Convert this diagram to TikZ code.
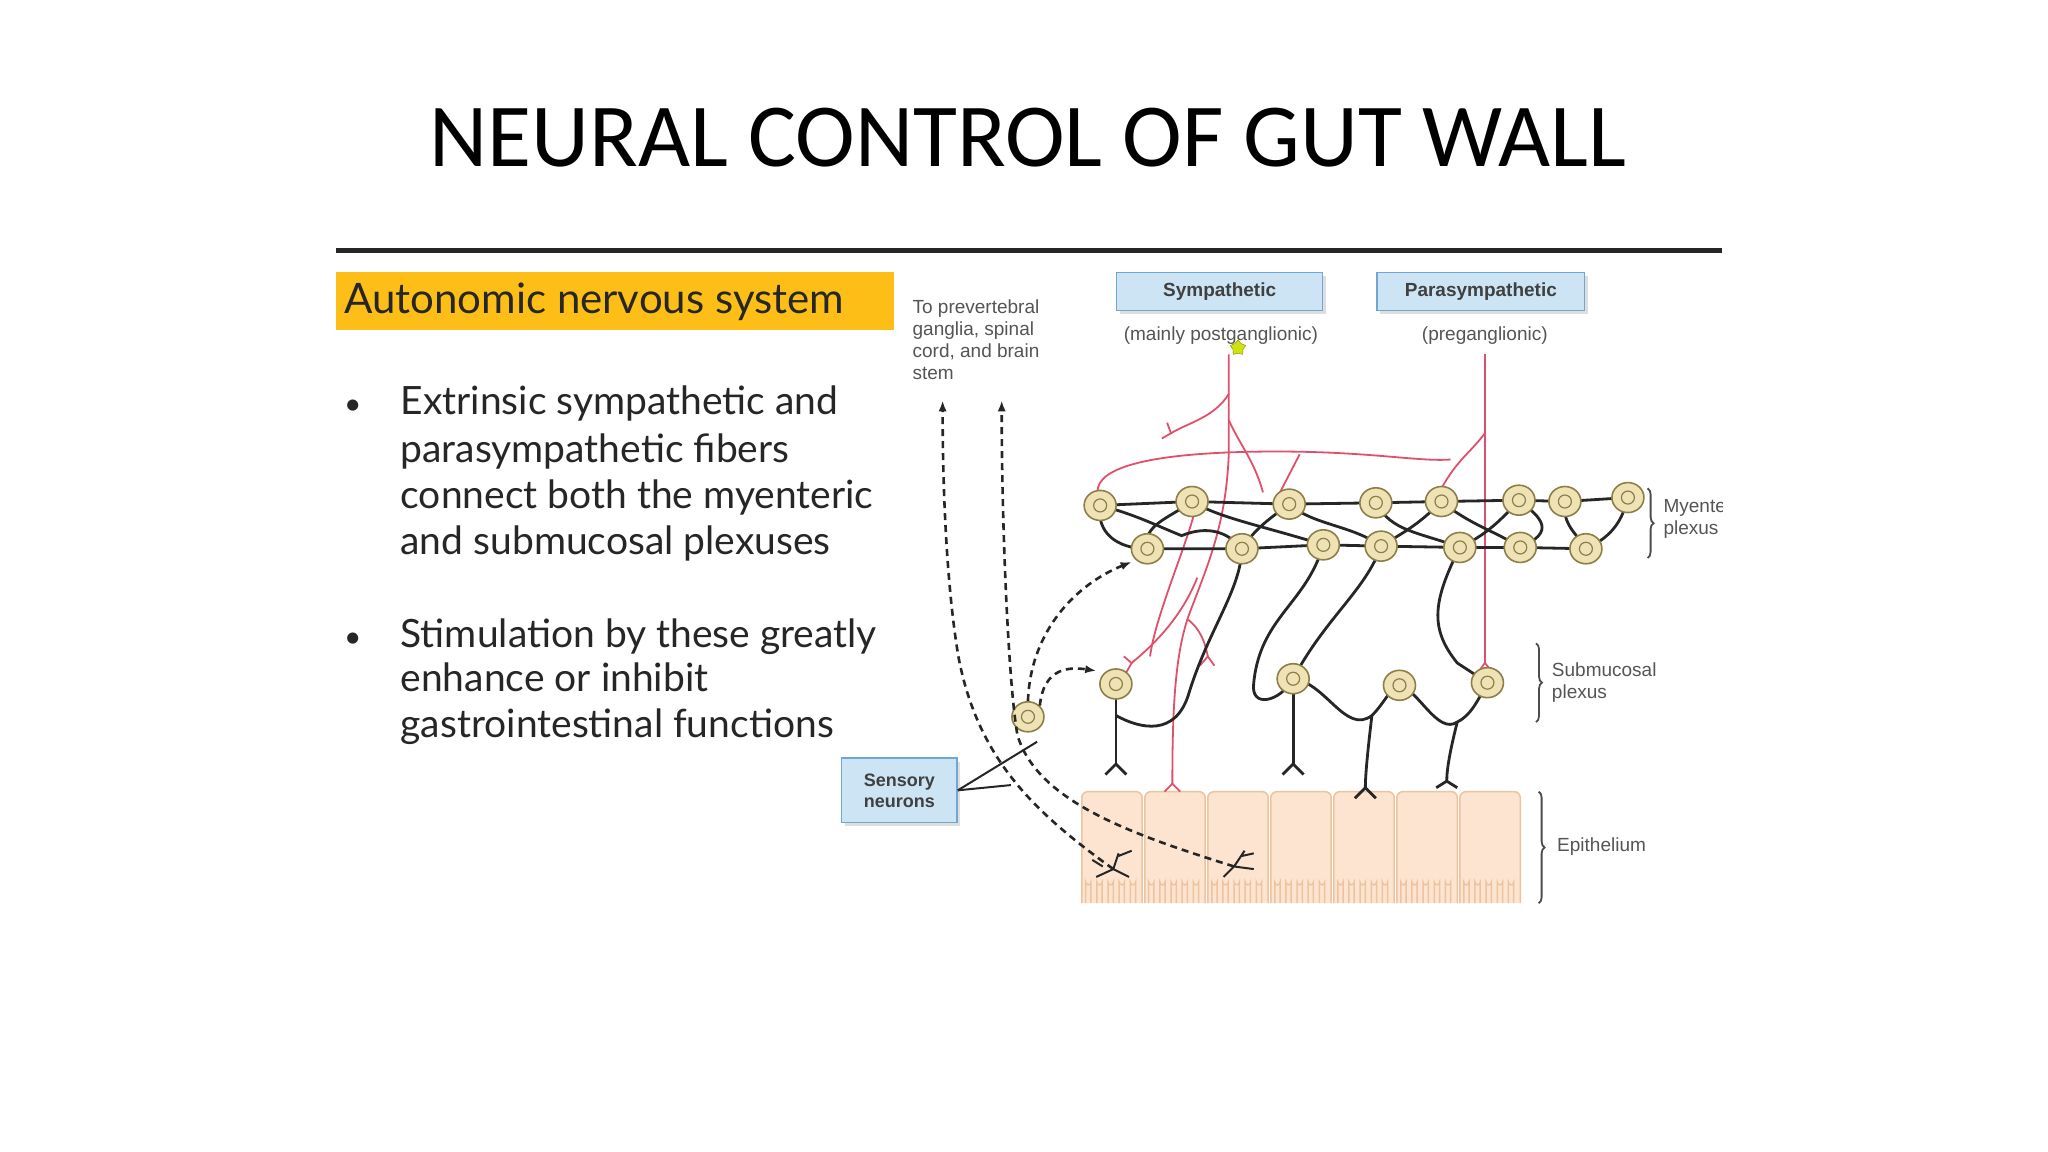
\documentclass[tikz,border=0pt]{standalone}
\usepackage{fontspec}
\setmainfont{Carlito}
\newfontfamily\bodyfont{Lato}
\newfontfamily\lab{Liberation Sans}
\usetikzlibrary{shapes.geometric,decorations.pathreplacing,arrows.meta,shadows}
\definecolor{orng}{HTML}{FDBF17}
\definecolor{boxblue}{HTML}{CDE4F5}
\definecolor{boxedge}{HTML}{6FA6D2}
\definecolor{redf}{HTML}{E0506A}
\definecolor{celledge}{HTML}{8C7F48}
\definecolor{cellfill}{HTML}{EFE3B5}
\definecolor{epi}{HTML}{FCE4D0}
\definecolor{epiedge}{HTML}{EDC3A0}
\definecolor{labgray}{HTML}{555555}
\tikzset{
 cellnode/.style={ellipse,draw=celledge,fill=cellfill,line width=1.6pt,minimum width=32pt,minimum height=30pt,inner sep=0pt},
 inner/.style={circle,draw=celledge,line width=1.2pt,minimum size=13pt,inner sep=0pt},
 lbox/.style={draw=boxedge,fill=boxblue,line width=1.5pt,font=\lab\bfseries\fontsize{19}{22}\selectfont,text=black!75,drop shadow={shadow xshift=3pt,shadow yshift=-4pt,fill=black!25}},
 red fiber/.style={draw=redf,line width=1.8pt},
 blk/.style={draw=black!85,line width=2.8pt},
 dsh/.style={draw=black!85,line width=2.6pt,dash pattern=on 7pt off 5pt},
 smalllab/.style={font=\lab\fontsize{19}{22}\selectfont,text=labgray,align=left,inner sep=0pt},
 bul/.style={font=\bodyfont\fontsize{39}{46}\selectfont,text=black!85,anchor=base west,inner sep=0pt},
 brc/.style={draw=black!70,line width=1.8pt,decorate,decoration={brace,amplitude=6pt}},
}
\begin{document}
\begin{tikzpicture}[x=1.3128pt,y=-1.3128pt]
\useasboundingbox (0,0) rectangle (1560,877.5);
\fill[white] (0,0) rectangle (1560,877.5);
% title
\node[font=\fontsize{90}{100}\selectfont,text=black] (title) at (783,105) {NEURAL CONTROL OF GUT WALL};
\draw[line width=5pt,black!85] (256,191) -- (1312,191);
% orange header
\node[fill=orng,anchor=north west,minimum width=425*1.3128pt,minimum height=44*1.3128pt,inner sep=0pt] (hdr) at (256,207) {};
\node[bul,anchor=west,font=\bodyfont\fontsize{42}{46}\selectfont] (hdrt) at (262,230) {Autonomic nervous system};
% bullets
\node[bul,font=\bodyfont\fontsize{30}{46}\selectfont] (b1) at (262,316) {•};
\node[bul] (l1) at (305,316) {Extrinsic sympathetic and};
\node[bul] (l2) at (305,352) {parasympathetic fibers};
\node[bul] (l3) at (305,387) {connect both the myenteric};
\node[bul] (l4) at (305,422) {and submucosal plexuses};
\node[bul,font=\bodyfont\fontsize{30}{46}\selectfont] (b2) at (262,493) {•};
\node[bul] (l5) at (305,493) {Stimulation by these greatly};
\node[bul] (l6) at (305,527) {enhance or inhibit};
\node[bul] (l7) at (305,562) {gastrointestinal functions};
% labels
\node[smalllab,anchor=north west] (prev) at (695,228) {To prevertebral\\ganglia, spinal\\cord, and brain\\stem};
\node[lbox,minimum width=157*1.3128pt,minimum height=29*1.3128pt] (symp) at (929,222) {Sympathetic};
\node[lbox,minimum width=158*1.3128pt,minimum height=29*1.3128pt] (para) at (1128,222) {Parasympathetic};
\node[smalllab] (mpg) at (930,256) {(mainly postganglionic)};
\node[smalllab] (pre) at (1131,256) {(preganglionic)};
\node[lbox,align=center,minimum width=88*1.3128pt,minimum height=49*1.3128pt,font=\lab\bfseries\fontsize{18}{21}\selectfont] (sens) at (685,602) {Sensory\\neurons};
% epithelium
\foreach \i in {0,...,6}{
  \pgfmathsetmacro{\xa}{824+\i*48}
  \draw[epiedge,fill=epi,line width=1.5pt,rounded corners=6pt] (\xa,688) -- (\xa,603) -- (\xa+46,603) -- (\xa+46,688);
  \foreach \k in {0,...,4}{
    \pgfmathsetmacro{\xv}{\xa+3+\k*8.5}
    \draw[epiedge,line width=1.5pt] (\xv,688) -- (\xv,672) arc[start angle=180,end angle=0,radius=2] -- (\xv+4,688);
  }
}
% red fibers
\draw[red fiber] (936,270) -- (936,300) .. controls (925,318) and (905,322) .. (892,330);
\draw[red fiber] (889,322) -- (892,330) -- (885,334);
\draw[red fiber] (936,300) -- (936,345) .. controls (934,400) and (920,430) .. (905,470) .. controls (895,500) and (893,540) .. (893,597);
\draw[red fiber] (887,603) -- (893,597) -- (899,603);
\draw[red fiber] (936,320) .. controls (945,340) and (955,350) .. (962,375);
\draw[red fiber] (1131,270) -- (1131,505);
\draw[red fiber] (1126,512) -- (1131,505) -- (1137,512);
\draw[red fiber] (1131,330) .. controls (1120,345) and (1110,350) .. (1098,372);
\draw[red fiber] (836,375) .. controls (835,355) and (880,345) .. (960,344) .. controls (1040,343) and (1080,352) .. (1105,350);
\draw[red fiber] (990,346) -- (975,375);
\draw[red fiber] (912,440) .. controls (900,470) and (880,490) .. (862,505);
\draw[red fiber] (856,500) -- (862,505) -- (858,512);
\draw[red fiber] (905,472) .. controls (915,480) and (918,490) .. (920,500);
\draw[red fiber] (914,507) -- (920,500) -- (925,507);
\draw[red fiber] (910,390) .. controls (902,420) and (880,470) .. (876,500);
% black network (drawn before cells)
\path (838,385) coordinate (pm1) (908,382) coordinate (pm2) (982,384) coordinate (pm3) (1048,383) coordinate (pm4)
 (1098,382) coordinate (pm5) (1157,381) coordinate (pm6) (1192,382) coordinate (pm7) (1240,379) coordinate (pm8)
 (874,418) coordinate (pn1) (946,418) coordinate (pn2) (1008,415) coordinate (pn3) (1052,416) coordinate (pn4)
 (1112,417) coordinate (pn5) (1158,417) coordinate (pn6) (1208,418) coordinate (pn7)
 (850,521) coordinate (ps1) (985,517) coordinate (ps2) (1066,522) coordinate (ps3) (1133,520) coordinate (ps4) (783,546) coordinate (psc);
\draw[blk] (pm1) -- (pm2) -- (pm3) -- (pm4) -- (pm5) -- (pm6) -- (pm7) -- (pm8);
\draw[blk] (pn1) -- (pn2) -- (pn3) -- (pn4) -- (pn5) -- (pn6) -- (pn7);
\draw[blk] (pm1) .. controls (835,405) and (850,418) .. (pn1);
\draw[blk] (pm1) .. controls (865,392) and (880,400) .. (900,408) .. controls (920,400) and (935,405) .. (pn2);
\draw[blk] (pm2) .. controls (890,395) and (870,400) .. (pn1);
\draw[blk] (pm2) .. controls (930,395) and (960,400) .. (pn3);
\draw[blk] (pm3) .. controls (960,400) and (955,405) .. (pn2);
\draw[blk] (pm3) .. controls (1000,400) and (1030,400) .. (pn4);
\draw[blk] (pm4) .. controls (1060,405) and (1080,405) .. (pn5);
\draw[blk] (pm5) .. controls (1080,400) and (1070,405) .. (pn4);
\draw[blk] (pm5) .. controls (1120,400) and (1140,405) .. (pn6);
\draw[blk] (pm6) .. controls (1140,400) and (1130,408) .. (pn5);
\draw[blk] (pm7) .. controls (1190,400) and (1200,405) .. (pn7);
\draw[blk] (pm8) .. controls (1235,400) and (1225,410) .. (pn7);
\draw[blk] (pm6) .. controls (1175,395) and (1185,405) .. (pn6);
\draw[blk] (pn2) .. controls (945,450) and (920,480) .. (905,530) .. controls (895,560) and (870,556) .. (850,545);
\draw[blk] (pn3) .. controls (995,460) and (960,470) .. (955,520) .. controls (952,540) and (975,535) .. (ps2);
\draw[blk] (pn4) .. controls (1040,450) and (1010,470) .. (ps2);
\draw[blk] (pn5) .. controls (1090,460) and (1090,480) .. (1110,505) -- (ps4);
\draw[blk] (ps2) .. controls (1010,520) and (1025,560) .. (1045,545) .. controls (1055,535) and (1058,525) .. (ps3);
\draw[blk] (ps3) .. controls (1080,525) and (1095,560) .. (1110,550) .. controls (1120,545) and (1125,535) .. (ps4);
\draw[blk] (ps1) -- (850,582);
\draw[blk] (842,590) -- (850,582) -- (858,590);
\draw[blk] (ps2) -- (985,582);
\draw[blk] (977,590) -- (985,582) -- (993,590);
\draw[blk] (1045,545) .. controls (1042,570) and (1040,590) .. (1040,600);
\draw[blk] (1032,608) -- (1040,600) -- (1048,608);
\draw[blk] (1110,550) .. controls (1105,570) and (1102,585) .. (1102,595);
\draw[blk] (1094,600) -- (1102,595) -- (1110,600);
% cells
\foreach \n/\x/\y in {m1/838/385,m2/908/382,m3/982/384,m4/1048/383,m5/1098/382,m6/1157/381,m7/1192/382,m8/1240/379,
  n1/874/418,n2/946/418,n3/1008/415,n4/1052/416,n5/1112/417,n6/1158/417,n7/1208/418,
  s1/850/521,s2/985/517,s3/1066/522,s4/1133/520,sc/783/546}{
  \node[cellnode] (\n) at (\x,\y) {};
  \node[inner] (\n i) at (\x,\y) {};
}
% sensory connections
\draw[blk,line width=2pt] (sens.east) -- (790,565);
\draw[blk,line width=2pt] (sens.east) -- (770,598);
% dashed fibers
\draw[dsh,-{Latex[length=11pt]}] (848,662) .. controls (790,620) and (745,580) .. (730,500) .. controls (720,440) and (718,360) .. (718,305);
\draw[dsh,-{Latex[length=11pt]}] (940,660) .. controls (860,635) and (790,610) .. (775,560) .. controls (768,520) and (763,400) .. (763,305);
\draw[dsh,-{Latex[length=11pt]}] (sc.north) .. controls (785,480) and (820,445) .. (862,428);
\draw[dsh,-{Latex[length=11pt]}] (sc.north east) .. controls (795,508) and (815,508) .. (835,511);
% epithelial sensory endings
\draw[blk,line width=2pt] (848,662) -- (835,668) (848,662) -- (852,650) (848,662) -- (860,668) (840,660)--(832,655) (852,652)--(862,648);
\draw[blk,line width=2pt] (940,660) -- (932,668) (940,660) -- (948,648) (940,660) -- (955,662) (946,652)--(955,650);
% braces and labels
\draw[brc] (1255,372) -- (1255,425);
\draw[brc] (1170,490) -- (1170,550);
\draw[brc] (1172,603) -- (1172,688);
\begin{scope}
\clip (0,0) rectangle (1312,877.5);
\node[smalllab,anchor=west] (myl) at (1267,395) {Myenteric\\plexus};
\end{scope}
\node[smalllab,anchor=west] (sml) at (1182,520) {Submucosal\\plexus};
\node[smalllab,anchor=west] (epl) at (1186,645) {Epithelium};
\node[star,star points=5,fill=yellow!80!green,draw=olive,minimum size=16pt,inner sep=0pt] (st) at (943,265) {};
\end{tikzpicture}
\end{document}
